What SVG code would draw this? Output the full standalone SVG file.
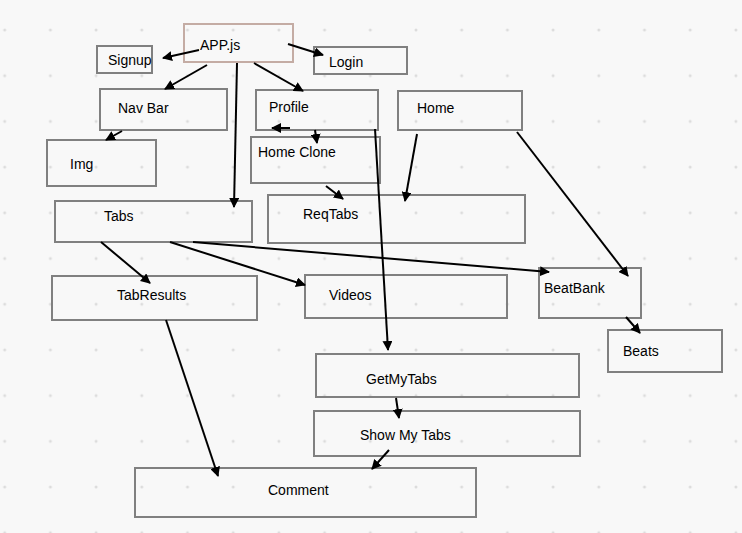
<svg xmlns="http://www.w3.org/2000/svg" width="742" height="533" viewBox="0 0 742 533">
<style>
.b{fill:none;stroke:#808080;stroke-width:2}
.a{fill:none;stroke:#c4aca4;stroke-width:2}
text{font-family:"Liberation Sans",Arial,sans-serif;font-size:14px;fill:#000}
.c line{stroke:#000;stroke-width:2;marker-end:url(#m)}
</style>
<defs>
<marker id="m" viewBox="0 0 10 10" refX="9" refY="5" markerWidth="5" markerHeight="5" orient="auto" markerUnits="strokeWidth"><path d="M0,0L10,5L0,10z" fill="#000"/></marker>
<pattern id="g" x="4.7" y="30" width="45.7" height="45.7" patternUnits="userSpaceOnUse"><circle cx="0" cy="0" r="1.5" fill="#dcdcdc"/><circle cx="45.7" cy="0" r="1.5" fill="#dcdcdc"/><circle cx="0" cy="45.7" r="1.5" fill="#dcdcdc"/><circle cx="45.7" cy="45.7" r="1.5" fill="#dcdcdc"/></pattern>
</defs>
<rect width="742" height="533" fill="#f8f8f8"/>
<rect width="742" height="533" fill="url(#g)"/>
<g id="app"><rect class="a" x="184" y="24" width="109" height="38"/><text x="200" y="50">APP.js</text></g>
<g id="signup"><rect class="b" x="97" y="46" width="55" height="27"/><text x="108" y="65">Signup</text></g>
<g id="login"><rect class="b" x="314" y="47" width="93" height="27"/><text x="329" y="67">Login</text></g>
<g id="navbar"><rect class="b" x="100" y="89" width="127" height="41"/><text x="118" y="113">Nav Bar</text></g>
<g id="profile"><rect class="b" x="256" y="90" width="122" height="40"/><text x="269" y="112">Profile</text></g>
<g id="home"><rect class="b" x="398" y="91" width="124" height="39"/><text x="417" y="113">Home</text></g>
<g id="img"><rect class="b" x="47" y="140" width="109" height="46"/><text x="70" y="169">Img</text></g>
<g id="homeclone"><rect class="b" x="251" y="137" width="129" height="46"/><text x="258" y="157">Home Clone</text></g>
<g id="reqtabs"><rect class="b" x="268" y="195" width="257" height="48"/><text x="303" y="219">ReqTabs</text></g>
<g id="tabs"><rect class="b" x="55" y="201" width="197" height="41"/><text x="104" y="221">Tabs</text></g>
<g id="tabresults"><rect class="b" x="52" y="276" width="205" height="44"/><text x="117" y="300">TabResults</text></g>
<g id="videos"><rect class="b" x="305" y="275" width="202" height="43"/><text x="329" y="300">Videos</text></g>
<g id="beatbank"><rect class="b" x="539" y="268" width="102" height="50"/><text x="544" y="293">BeatBank</text></g>
<g id="beats"><rect class="b" x="608" y="330" width="114" height="42"/><text x="623" y="356">Beats</text></g>
<g id="getmytabs"><rect class="b" x="316" y="354" width="263" height="43"/><text x="366" y="384">GetMyTabs</text></g>
<g id="showmytabs"><rect class="b" x="314" y="411" width="266" height="45"/><text x="360" y="440">Show My Tabs</text></g>
<g id="comment"><rect class="b" x="135" y="468" width="341" height="49"/><text x="268" y="495">Comment</text></g>
<g class="c" id="connectors">
<line x1="199" y1="50" x2="163" y2="58"/>
<line x1="288" y1="44" x2="323" y2="55"/>
<line x1="207" y1="65" x2="165" y2="89"/>
<line x1="254" y1="63" x2="303" y2="91"/>
<line x1="237" y1="63" x2="234" y2="207"/>
<line x1="122" y1="131" x2="106" y2="140"/>
<line x1="290" y1="128" x2="272" y2="128"/>
<line x1="315" y1="130" x2="317" y2="143"/>
<line x1="375" y1="129" x2="388" y2="350"/>
<line x1="326" y1="186" x2="343" y2="199"/>
<line x1="417" y1="134" x2="405" y2="201"/>
<line x1="517" y1="132" x2="628" y2="276"/>
<line x1="101" y1="242" x2="150" y2="283"/>
<line x1="170" y1="242" x2="305" y2="285"/>
<line x1="193" y1="242" x2="549" y2="272"/>
<line x1="166" y1="320" x2="218" y2="476"/>
<line x1="396" y1="398" x2="399" y2="418"/>
<line x1="389" y1="450" x2="372" y2="469"/>
<line x1="626" y1="317" x2="640" y2="333"/>
</g>
</svg>
